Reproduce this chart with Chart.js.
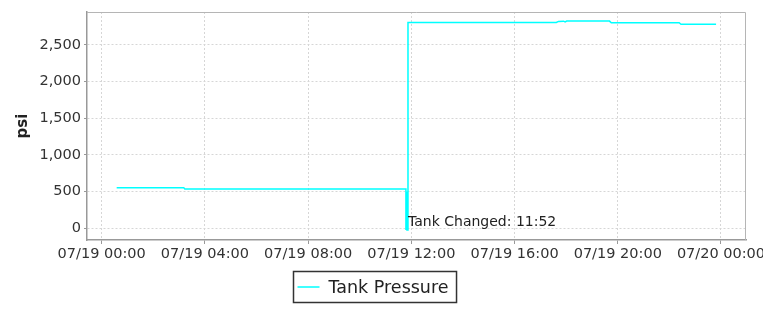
<!DOCTYPE html>
<html>
<head>
<meta charset="utf-8">
<script src="https://cdn.jsdelivr.net/npm/chart.js@4"></script>
<style>
  html, body { margin: 0; padding: 0; background: #fff; }
  canvas { display: block; }
</style>
</head>
<body>
<canvas id="myChart" width="763" height="309"></canvas>
<script>
// hours since 07/19 00:00
const times = [0.58, 3.18, 3.22, 11.79, 11.79, 11.83, 11.83, 11.87, 11.87,
    17.62, 17.70, 17.90, 17.96, 18.02, 19.68, 19.75, 22.38, 22.45, 23.81];
const pressure = [554, 554, 536, 536, -25, 500, -25, -25, 2807,
    2807, 2822, 2825, 2815, 2826, 2826, 2803, 2803, 2783, 2783];

const xTickHours = [0, 4, 8, 12, 16, 20, 24];
const xTickLabels = ["07/19 00:00", "07/19 04:00", "07/19 08:00", "07/19 12:00",
    "07/19 16:00", "07/19 20:00", "07/20 00:00"];
const yTicks = [0, 500, 1000, 1500, 2000, 2500];

const seriesLabel = "Tank Pressure";
const annotationText = "Tank Changed: 11:52";
const annotationX = 11.87;
const annotationY = 30;

const FONT = "'DejaVu Sans', sans-serif";
const ctx = document.getElementById("myChart").getContext('2d');

const plotFrame = {
    id: 'plotFrame',
    beforeDatasetsDraw(chart) {
        const a = chart.chartArea, c = chart.ctx;
        c.save();
        c.strokeStyle = '#b5b5b5';
        c.lineWidth = 1;
        c.beginPath();
        c.moveTo(a.left, a.top + 0.5);
        c.lineTo(a.right - 0.5, a.top + 0.5);
        c.lineTo(a.right - 0.5, a.bottom);
        c.stroke();
        c.restore();
    }
};

const tankNote = {
    id: 'tankNote',
    afterDatasetsDraw(chart) {
        const c = chart.ctx;
        const x = chart.scales.x.getPixelForValue(annotationX);
        const y = chart.scales.y.getPixelForValue(annotationY);
        c.save();
        c.font = "14px " + FONT;
        c.fillStyle = '#222';
        c.textAlign = 'left';
        c.textBaseline = 'alphabetic';
        c.fillText(annotationText, x, y);
        c.restore();
    }
};

const boxLegend = {
    id: 'boxLegend',
    afterDraw(chart) {
        const c = chart.ctx;
        const ds = chart.data.datasets[0];
        c.save();
        c.font = "17.5px " + FONT;
        const tw = c.measureText(ds.label).width;
        const w = 4 + 22 + 9 + tw + 8;
        const h = 31;
        const left = Math.round(chart.width / 2 - 7 - w / 2) + 0.5;
        const top = 271.5;
        c.strokeStyle = '#333';
        c.lineWidth = 1.5;
        c.strokeRect(left, top, w, h);
        c.strokeStyle = ds.borderColor;
        c.lineWidth = 1.5;
        c.beginPath();
        c.moveTo(left + 4, top + h / 2);
        c.lineTo(left + 26, top + h / 2);
        c.stroke();
        c.fillStyle = '#222';
        c.textBaseline = 'middle';
        c.fillText(ds.label, left + 35, top + h / 2 + 1);
        c.restore();
    }
};

const myChart = new Chart(ctx, {
    type: 'line',
    data: {
        datasets: [{
            label: seriesLabel,
            data: times.map((t, i) => ({x: t, y: pressure[i]})),
            borderColor: '#00ffff',
            backgroundColor: '#00ffff',
            borderWidth: 1.5,
            pointRadius: 0,
            tension: 0,
            fill: false
        }]
    },
    options: {
        responsive: false,
        animation: false,
        devicePixelRatio: 1,
        layout: {
            padding: {left: 0, top: 12, right: 17, bottom: 41}
        },
        plugins: {
            legend: {display: false},
            tooltip: {enabled: false}
        },
        scales: {
            x: {
                type: 'linear',
                min: -0.57,
                max: 24.97,
                afterBuildTicks: scale => {
                    scale.ticks = xTickHours.map(v => ({value: v}));
                },
                afterFit: scale => {
                    scale.height = 28;
                    scale.paddingLeft = 0;
                    scale.paddingRight = 0;
                },
                ticks: {
                    autoSkip: false,
                    maxRotation: 0,
                    padding: 2,
                    color: '#333',
                    font: {family: FONT, size: 14.5},
                    callback: v => xTickLabels[xTickHours.indexOf(v)]
                },
                grid: {
                    color: '#d6d6d6',
                    lineWidth: 1,
                    tickLength: 4,
                    tickColor: '#999'
                },
                border: {display: true, color: '#999', width: 1.5, dash: [2, 2]}
            },
            y: {
                type: 'linear',
                min: -160,
                max: 2950,
                afterBuildTicks: scale => {
                    scale.ticks = yTicks.map(v => ({value: v}));
                },
                afterFit: scale => {
                    scale.width = 87;
                    scale.paddingTop = 0;
                    scale.paddingBottom = 0;
                },
                ticks: {
                    padding: 3,
                    color: '#333',
                    font: {family: FONT, size: 14.5},
                    callback: v => v.toLocaleString('en-US')
                },
                grid: {
                    color: '#d6d6d6',
                    lineWidth: 1,
                    tickLength: 3,
                    tickColor: '#999'
                },
                border: {display: true, color: '#999', width: 1.5, dash: [2, 2]},
                title: {
                    display: true,
                    text: 'psi',
                    color: '#222',
                    font: {family: FONT, size: 15, weight: 'bold'},
                    padding: {top: 14, bottom: 0}
                }
            }
        }
    },
    plugins: [plotFrame, tankNote, boxLegend]
});
</script>
</body>
</html>
